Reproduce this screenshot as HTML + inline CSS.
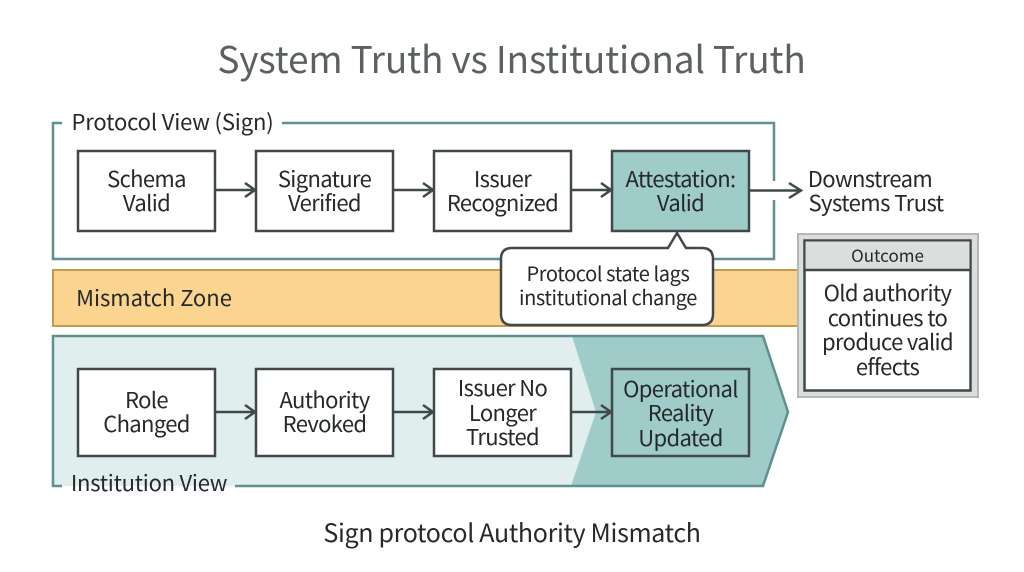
<!DOCTYPE html>
<html>
<head>
<meta charset="utf-8">
<style>
html,body{margin:0;padding:0;background:#fff;}
svg{display:block;}
text{font-family:"Noto Sans CJK JP","Liberation Sans",sans-serif;fill:#25292b;text-anchor:middle;}
.b{font-size:22px;letter-spacing:-0.65px;}
.box{fill:#fff;stroke:#40484a;stroke-width:2.5;}
.tbox{fill:#9fcbc8;stroke:#40484a;stroke-width:2.5;}
.ar{fill:none;stroke:#40484a;stroke-width:2.5;}
</style>
</head>
<body>
<svg width="1024" height="572" viewBox="0 0 1024 572" xmlns="http://www.w3.org/2000/svg">
<rect width="1024" height="572" fill="#fff"/>
<text x="511.500" y="73" style="font-size:37px;letter-spacing:-0.15px;fill:#5b6062">System Truth vs Institutional Truth</text>

<!-- Protocol frame -->
<path d="M62 123H53V259H774V200M774 181V123H282" fill="none" stroke="#5f8f90" stroke-width="2.5"/>
<text x="172.500" y="130" style="font-size:22px;letter-spacing:-0.15px">Protocol View (Sign)</text>

<rect class="box" x="78" y="151" width="137" height="80"/>
<rect class="box" x="256" y="151" width="137" height="80"/>
<rect class="box" x="434" y="151" width="137" height="80"/>
<rect class="tbox" x="612" y="151" width="137" height="80"/>
<text class="b" x="146.500" y="187">Schema</text><text class="b" x="146.500" y="211">Valid</text>
<text class="b" x="324.500" y="187">Signature</text><text class="b" x="324.500" y="211">Verified</text>
<text class="b" x="502.500" y="187">Issuer</text><text class="b" x="502.500" y="211">Recognized</text>
<text class="b" x="680.500" y="187">Attestation:</text><text class="b" x="680.500" y="211">Valid</text>

<path class="ar" d="M215 190H254M245 183L255 190L245 197"/>
<path class="ar" d="M393 190H432M423 183L433 190L423 197"/>
<path class="ar" d="M571 190H610M601 183L611 190L601 197"/>
<path class="ar" d="M749 190.500H800M789 183L801 190.500L789 198"/>
<text x="870" y="187" style="font-size:22px;letter-spacing:-0.6px">Downstream</text>
<text x="876" y="211" style="font-size:22px;letter-spacing:-0.55px">Systems Trust</text>

<!-- Mismatch -->
<rect x="53" y="270" width="745" height="56" fill="#fbd590" stroke="#c59a4a" stroke-width="2"/>
<text x="154" y="306" style="font-size:22px">Mismatch Zone</text>

<!-- Institution -->
<path d="M53 336H763L788 412L763 486H53Z" fill="#e0efee"/>
<path d="M572 336H763L788 412L763 486H571L596 412Z" fill="#9fcbc8"/>
<path d="M62 486H53V336H763L788 412L763 486H235" fill="none" stroke="#5f8f90" stroke-width="2.500"/>
<text x="149" y="491" style="font-size:22px;letter-spacing:-0.25px">Institution View</text>

<rect class="box" x="78" y="369" width="137" height="87"/>
<rect class="box" x="256" y="369" width="137" height="87"/>
<rect class="box" x="434" y="369" width="137" height="87"/>
<rect class="tbox" x="612" y="369" width="137" height="87"/>
<text class="b" x="146.500" y="408">Role</text><text class="b" x="146.500" y="432">Changed</text>
<text class="b" x="324.500" y="408">Authority</text><text class="b" x="324.500" y="432">Revoked</text>
<text class="b" x="502.500" y="396">Issuer No</text><text class="b" x="502.500" y="421">Longer</text><text class="b" x="502.500" y="445">Trusted</text>
<text class="b" x="680.500" y="397">Operational</text><text class="b" x="680.500" y="421">Reality</text><text class="b" x="680.500" y="446">Updated</text>
<path class="ar" d="M215 412H254M245 405L255 412L245 419"/>
<path class="ar" d="M393 412H432M423 405L433 412L423 419"/>
<path class="ar" d="M571 412H610M601 405L611 412L601 419"/>

<!-- Callout -->
<path d="M512 248H668L677 233L686 248H702Q713 248 713 259V314Q713 325 702 325H512Q501 325 501 314V259Q501 248 512 248Z" fill="#fff" stroke="#40484a" stroke-width="2.500"/>
<text x="608" y="281" style="font-size:20px;letter-spacing:-0.4px">Protocol state lags</text>
<text x="608" y="305" style="font-size:20px;letter-spacing:-0.4px">institutional change</text>

<!-- Outcome -->
<rect x="798" y="234" width="180" height="163" fill="#dcdede" stroke="#b4b8b8" stroke-width="2"/>
<rect x="804.500" y="240.500" width="166" height="150" fill="#fff" stroke="#40484a" stroke-width="2.500"/>
<rect x="805.500" y="241.500" width="164" height="28" fill="#dcdede"/>
<line x1="804" y1="270" x2="971" y2="270" stroke="#40484a" stroke-width="2.500"/>
<text x="887.500" y="262" style="font-size:17px">Outcome</text>
<text class="b" x="887.500" y="301">Old authority</text>
<text class="b" x="887.500" y="326">continues to</text>
<text class="b" x="887.500" y="350">produce valid</text>
<text class="b" x="887.500" y="375">effects</text>

<text x="512" y="542" style="font-size:25px;letter-spacing:-0.33px">Sign protocol Authority Mismatch</text>
</svg>
</body>
</html>
